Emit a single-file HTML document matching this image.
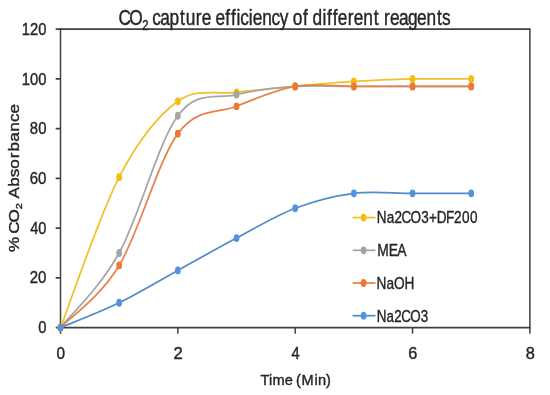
<!DOCTYPE html><html><head><meta charset="utf-8"><title>CO2 capture efficiency of different reagents</title><style>html,body{margin:0;padding:0;background:#fff;}svg{display:block;filter:blur(0.35px);}text{font-family:"Liberation Sans",sans-serif;fill:#262626;stroke:#262626;stroke-width:0.4px;}</style></head><body>
<svg width="550" height="395" viewBox="0 0 550 395">
<rect width="550" height="395" fill="#fff"/>
<path d="M59.75,29.2H529.9M59.75,327.6H530.65" fill="none" stroke="#404040" stroke-width="1.75"/>
<path d="M60.5,28.25V327.6M529.9,28.25V333.8" fill="none" stroke="#404040" stroke-width="1.5"/>
<path d="M55.70,327.60H60.5M55.70,277.87H60.5M55.70,228.13H60.5M55.70,178.40H60.5M55.70,128.67H60.5M55.70,78.93H60.5M55.70,29.20H60.5" fill="none" stroke="#404040" stroke-width="1.75"/>
<path d="M60.50,327.6V333.80M177.85,327.6V333.80M295.20,327.6V333.80M412.55,327.6V333.80" fill="none" stroke="#404040" stroke-width="1.5"/>
<path d="M60.50,327.60 C70.28,302.53 99.62,214.87 119.17,177.16 C138.73,139.44 158.29,115.45 177.85,101.31 C197.41,87.18 216.97,94.85 236.52,92.36 C256.08,89.87 275.64,88.22 295.20,86.39 C314.76,84.57 334.32,82.66 353.88,81.42 C373.43,80.18 392.99,79.35 412.55,78.93 C432.11,78.52 461.45,78.93 471.22,78.93" fill="none" stroke="#EDC22A" stroke-width="1.75" stroke-linecap="round" stroke-linejoin="round"/>
<ellipse cx="60.50" cy="327.60" rx="2.9" ry="3.9" fill="#F7BC0C"/>
<ellipse cx="119.17" cy="177.16" rx="2.9" ry="3.9" fill="#F7BC0C"/>
<ellipse cx="177.85" cy="101.31" rx="2.9" ry="3.9" fill="#F7BC0C"/>
<ellipse cx="236.52" cy="92.36" rx="2.9" ry="3.9" fill="#F7BC0C"/>
<ellipse cx="295.20" cy="86.39" rx="2.9" ry="3.9" fill="#F7BC0C"/>
<ellipse cx="353.88" cy="81.42" rx="2.9" ry="3.9" fill="#F7BC0C"/>
<ellipse cx="412.55" cy="78.93" rx="2.9" ry="3.9" fill="#F7BC0C"/>
<ellipse cx="471.22" cy="78.93" rx="2.9" ry="3.9" fill="#F7BC0C"/>
<path d="M60.50,327.60 C70.28,315.17 99.62,288.31 119.17,253.00 C138.73,217.69 158.29,142.14 177.85,115.74 C197.41,89.34 216.97,99.49 236.52,94.60 C256.08,89.71 275.64,87.76 295.20,86.39 C314.76,85.03 334.32,86.39 353.88,86.39 C373.43,86.39 392.99,86.39 412.55,86.39 C432.11,86.39 461.45,86.39 471.22,86.39" fill="none" stroke="#A5A5A5" stroke-width="1.75" stroke-linecap="round" stroke-linejoin="round"/>
<ellipse cx="60.50" cy="327.60" rx="2.9" ry="3.9" fill="#A5A5A5"/>
<ellipse cx="119.17" cy="253.00" rx="2.9" ry="3.9" fill="#A5A5A5"/>
<ellipse cx="177.85" cy="115.74" rx="2.9" ry="3.9" fill="#A5A5A5"/>
<ellipse cx="236.52" cy="94.60" rx="2.9" ry="3.9" fill="#A5A5A5"/>
<ellipse cx="295.20" cy="86.39" rx="2.9" ry="3.9" fill="#A5A5A5"/>
<ellipse cx="353.88" cy="86.39" rx="2.9" ry="3.9" fill="#A5A5A5"/>
<ellipse cx="412.55" cy="86.39" rx="2.9" ry="3.9" fill="#A5A5A5"/>
<ellipse cx="471.22" cy="86.39" rx="2.9" ry="3.9" fill="#A5A5A5"/>
<path d="M60.50,327.60 C70.28,317.24 99.62,297.76 119.17,265.43 C138.73,233.11 158.29,160.16 177.85,133.64 C197.41,107.12 216.97,114.16 236.52,106.29 C256.08,98.41 275.64,89.71 295.20,86.39 C314.76,83.08 334.32,86.39 353.88,86.39 C373.43,86.39 392.99,86.39 412.55,86.39 C432.11,86.39 461.45,86.39 471.22,86.39" fill="none" stroke="#E5834A" stroke-width="1.75" stroke-linecap="round" stroke-linejoin="round"/>
<ellipse cx="60.50" cy="327.60" rx="2.9" ry="3.9" fill="#EB7A30"/>
<ellipse cx="119.17" cy="265.43" rx="2.9" ry="3.9" fill="#EB7A30"/>
<ellipse cx="177.85" cy="133.64" rx="2.9" ry="3.9" fill="#EB7A30"/>
<ellipse cx="236.52" cy="106.29" rx="2.9" ry="3.9" fill="#EB7A30"/>
<ellipse cx="295.20" cy="86.39" rx="2.9" ry="3.9" fill="#EB7A30"/>
<ellipse cx="353.88" cy="86.39" rx="2.9" ry="3.9" fill="#EB7A30"/>
<ellipse cx="412.55" cy="86.39" rx="2.9" ry="3.9" fill="#EB7A30"/>
<ellipse cx="471.22" cy="86.39" rx="2.9" ry="3.9" fill="#EB7A30"/>
<path d="M60.50,327.60 C70.28,323.46 99.62,312.27 119.17,302.73 C138.73,293.20 158.29,281.18 177.85,270.41 C197.41,259.63 216.97,248.44 236.52,238.08 C256.08,227.72 275.64,215.70 295.20,208.24 C314.76,200.78 334.32,195.81 353.88,193.32 C373.43,190.83 392.99,193.32 412.55,193.32 C432.11,193.32 461.45,193.32 471.22,193.32" fill="none" stroke="#538AC8" stroke-width="1.75" stroke-linecap="round" stroke-linejoin="round"/>
<ellipse cx="60.50" cy="327.60" rx="2.9" ry="3.9" fill="#5294DC"/>
<ellipse cx="119.17" cy="302.73" rx="2.9" ry="3.9" fill="#5294DC"/>
<ellipse cx="177.85" cy="270.41" rx="2.9" ry="3.9" fill="#5294DC"/>
<ellipse cx="236.52" cy="238.08" rx="2.9" ry="3.9" fill="#5294DC"/>
<ellipse cx="295.20" cy="208.24" rx="2.9" ry="3.9" fill="#5294DC"/>
<ellipse cx="353.88" cy="193.32" rx="2.9" ry="3.9" fill="#5294DC"/>
<ellipse cx="412.55" cy="193.32" rx="2.9" ry="3.9" fill="#5294DC"/>
<ellipse cx="471.22" cy="193.32" rx="2.9" ry="3.9" fill="#5294DC"/>
<text transform="translate(0,24.60) scale(0.8093,1)"><tspan x="146.48 159.72" y="0.00" font-size="21.37">CO</tspan><tspan x="175.64" y="5.34" font-size="13.89">2</tspan><tspan x="182.96 188.10 197.94 209.56 222.49 229.48 241.98 249.39 260.74 266.14 278.40 285.47 292.25 296.83 307.35 312.20 324.04 335.61 345.74 355.97 361.72 374.33 380.48 386.20 398.51 404.10 411.16 417.48 429.66 437.07 448.91 461.84 468.33 474.40 481.81 493.11 504.10 515.31 527.15 540.08 546.11" y="0.00" font-size="21.37"> capture efficiency of different reagents</tspan></text>
<text transform="translate(0,333.20) scale(0.8534,1)"><tspan x="44.77" y="0.00" font-size="17.30">0</tspan></text>
<text transform="translate(0,283.47) scale(0.8663,1)"><tspan x="34.35 43.97" y="0.00" font-size="17.30">20</tspan></text>
<text transform="translate(0,233.73) scale(0.8415,1)"><tspan x="35.92 45.54" y="0.00" font-size="17.30">40</tspan></text>
<text transform="translate(0,184.00) scale(0.8663,1)"><tspan x="34.35 43.97" y="0.00" font-size="17.30">60</tspan></text>
<text transform="translate(0,134.27) scale(0.8619,1)"><tspan x="34.62 44.24" y="0.00" font-size="17.30">80</tspan></text>
<text transform="translate(0,84.53) scale(0.8534,1)"><tspan x="25.53 35.15 44.77" y="0.00" font-size="17.30">100</tspan></text>
<text transform="translate(0,34.80) scale(0.8534,1)"><tspan x="25.53 35.15 44.77" y="0.00" font-size="17.30">120</tspan></text>
<text transform="translate(0,359.20) scale(0.9574,1)"><tspan x="59.06" y="0.00" font-size="15.99">0</tspan></text>
<text transform="translate(0,359.20) scale(1.0388,1)"><tspan x="167.03" y="0.00" font-size="15.99">2</tspan></text>
<text transform="translate(0,359.20) scale(0.9209,1)"><tspan x="316.44" y="0.00" font-size="15.99">4</tspan></text>
<text transform="translate(0,359.20) scale(1.0198,1)"><tspan x="400.30" y="0.00" font-size="15.99">6</tspan></text>
<text transform="translate(0,359.20) scale(1.0210,1)"><tspan x="514.87" y="0.00" font-size="15.99">8</tspan></text>
<text transform="translate(0,385.00) scale(0.9474,1)"><tspan x="274.95 283.86 287.65 300.49 308.61 312.56 318.27 331.94 335.60 344.16" y="0.00" font-size="15.41">Time (Min)</tspan></text>
<text transform="translate(18.90,0) rotate(-90) scale(1.1293,1)"><tspan x="-223.16 -210.35 -207.11 -197.14" y="0.00" font-size="15.12">% CO</tspan><tspan x="-185.37" y="3.33" font-size="9.83">2</tspan><tspan x="-179.91 -175.85 -165.41 -157.02 -149.46 -140.16 -134.24 -125.51 -116.78 -108.11 -100.53" y="0.00" font-size="15.12"> Absorbance</tspan></text>
<path d="M352.6,217.6H375.5" stroke="#EDC22A" stroke-width="1.75" fill="none"/>
<ellipse cx="363.6" cy="217.6" rx="2.9" ry="3.9" fill="#F7BC0C"/>
<text transform="translate(0,223.40) scale(0.7838,1)"><tspan x="480.58 493.32 503.24 512.27 523.81 537.49 547.36 557.36 569.14 579.33 589.53 599.73" y="0.00" font-size="17.30">Na2CO3+DF200</tspan></text>
<path d="M352.6,250.3H375.5" stroke="#A5A5A5" stroke-width="1.75" fill="none"/>
<ellipse cx="363.6" cy="250.3" rx="2.9" ry="3.9" fill="#A5A5A5"/>
<text transform="translate(0,256.10) scale(0.8011,1)"><tspan x="470.88 485.41 495.82" y="0.00" font-size="17.30">MEA</tspan></text>
<path d="M352.6,283.0H375.5" stroke="#E5834A" stroke-width="1.75" fill="none"/>
<ellipse cx="363.6" cy="283.0" rx="2.9" ry="3.9" fill="#EB7A30"/>
<text transform="translate(0,288.80) scale(0.7889,1)"><tspan x="477.37 490.02 499.48 512.78" y="0.00" font-size="17.30">NaOH</tspan></text>
<path d="M352.6,315.7H375.5" stroke="#538AC8" stroke-width="1.75" fill="none"/>
<ellipse cx="363.6" cy="315.7" rx="2.9" ry="3.9" fill="#5294DC"/>
<text transform="translate(0,321.50) scale(0.7731,1)"><tspan x="487.26 500.05 510.00 519.06 530.65 544.36" y="0.00" font-size="17.30">Na2CO3</tspan></text>
</svg></body></html>
